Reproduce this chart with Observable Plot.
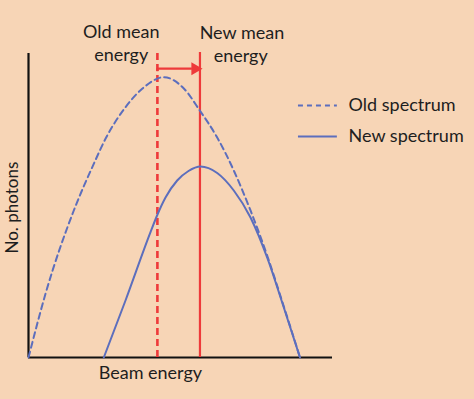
<!DOCTYPE html>
<html>
<head>
<meta charset="utf-8">
<script src="https://cdn.jsdelivr.net/npm/d3@7"></script>
<script src="https://cdn.jsdelivr.net/npm/@observablehq/plot@0.6"></script>
<style>
  html, body { margin: 0; padding: 0; background: #f7d5b6; }
  #chart svg { display: block; }
</style>
</head>
<body>
<div id="chart"></div>
<script>
// Old spectrum (beam energy, number of photons) – arbitrary units
const oldEnergy  = [0, 5.59, 14.90, 21.48, 25.33, 31.91, 37.40, 44.51, 51.09, 56.35, 62.07, 67.53, 73.03, 78.62, 83.88, 89.31];
const oldPhotons = [0, 20.95, 48.36, 63.72, 71.94, 82.34, 88.39, 92.20, 88.49, 81.25, 72.37, 61.51, 48.36, 33.22, 17.11, 0];
// New spectrum
const newEnergy  = [24.77, 31.91, 40.13, 42.43, 45.07, 48.91, 52.63, 56.58, 62.07, 67.53, 73.03, 78.62, 83.88, 89.31];
const newPhotons = [0, 18.75, 41.22, 47.04, 52.63, 58.22, 61.35, 62.83, 60.69, 54.93, 46.05, 32.57, 16.78, 0];
// Mean energies
const oldMean = 42.4;
const newMean = 56.4;
const meanLineTop = [101, 100.3];
const arrowLevel = 95;
// Labels
const meanLabels = [
  {x: 30.5, y: 107, text: "Old mean"},
  {x: 30.5, y: 99.5, text: "energy"},
  {x: 70.2, y: 106.6, text: "New mean"},
  {x: 69.8, y: 99, text: "energy"}
];
const legendNames = ["Old spectrum", "New spectrum"];
const legendY = [82.9, 72.7];
const legendX = [88.8, 101.6, 105.3];
const axisLabels = {x: "Beam energy", y: "No. photons"};

const oldData = oldEnergy.map((e, i) => ({e, n: oldPhotons[i]}));
const newData = newEnergy.map((e, i) => ({e, n: newPhotons[i]}));

const red = "#ee3a3a";
const blue = "#5c6ebd";
const ink = "#1e1e1e";
const font = "Lato, 'Open Sans', sans-serif";

const chart = Plot.plot({
  width: 474,
  height: 399,
  marginLeft: 28,
  marginRight: 142,
  marginTop: 53,
  marginBottom: 42,
  x: {domain: [0, 100], axis: null},
  y: {domain: [0, 100], axis: null},
  style: {background: "#f7d5b6", fontFamily: font, overflow: "visible"},
  marks: [
    // axes
    Plot.ruleY([0], {stroke: "#111", strokeWidth: 2.2}),
    Plot.ruleX([0], {stroke: "#111", strokeWidth: 2.2}),
    // mean lines
    Plot.ruleX([oldMean], {y1: 0, y2: meanLineTop[0], stroke: red, strokeWidth: 2.6, strokeDasharray: "7,4"}),
    Plot.ruleX([newMean], {y1: 0, y2: meanLineTop[1], stroke: red, strokeWidth: 2.2}),
    // arrow
    Plot.ruleY([arrowLevel], {x1: oldMean, x2: newMean - 2.5, stroke: red, strokeWidth: 2.2}),
    Plot.ruleX([oldMean], {y1: arrowLevel - 1, y2: arrowLevel, stroke: red, strokeWidth: 2.2}),
    Plot.dot([{x: newMean - 1.6, y: arrowLevel}], {x: "x", y: "y", symbol: "triangle", rotate: 90, r: 4.8, fill: red, stroke: "none"}),
    // spectra
    Plot.line(oldData, {x: "e", y: "n", stroke: blue, strokeWidth: 2, strokeDasharray: "6,4", curve: "monotone-x"}),
    Plot.line(newData, {x: "e", y: "n", stroke: blue, strokeWidth: 2, curve: "monotone-x"}),
    // mean labels
    Plot.text(meanLabels, {x: "x", y: "y", text: "text", fontSize: 18, fill: ink, textAnchor: "middle"}),
    // legend
    Plot.ruleY([legendY[0]], {x1: legendX[0], x2: legendX[1], stroke: blue, strokeWidth: 2, strokeDasharray: "5,4"}),
    Plot.ruleY([legendY[1]], {x1: legendX[0], x2: legendX[1], stroke: blue, strokeWidth: 2}),
    Plot.text(legendNames, {x: legendX[2], y: (d, i) => legendY[i], text: d => d, fontSize: 18, fill: ink, textAnchor: "start"}),
    // axis labels
    Plot.text([axisLabels.x], {x: 40.1, y: -5.3, text: d => d, fontSize: 18, fill: ink}),
    Plot.text([axisLabels.y], {x: -5.3, y: 49.3, text: d => d, fontSize: 17, fill: ink, rotate: -90})
  ]
});
document.getElementById("chart").appendChild(chart);
</script>
</body>
</html>
